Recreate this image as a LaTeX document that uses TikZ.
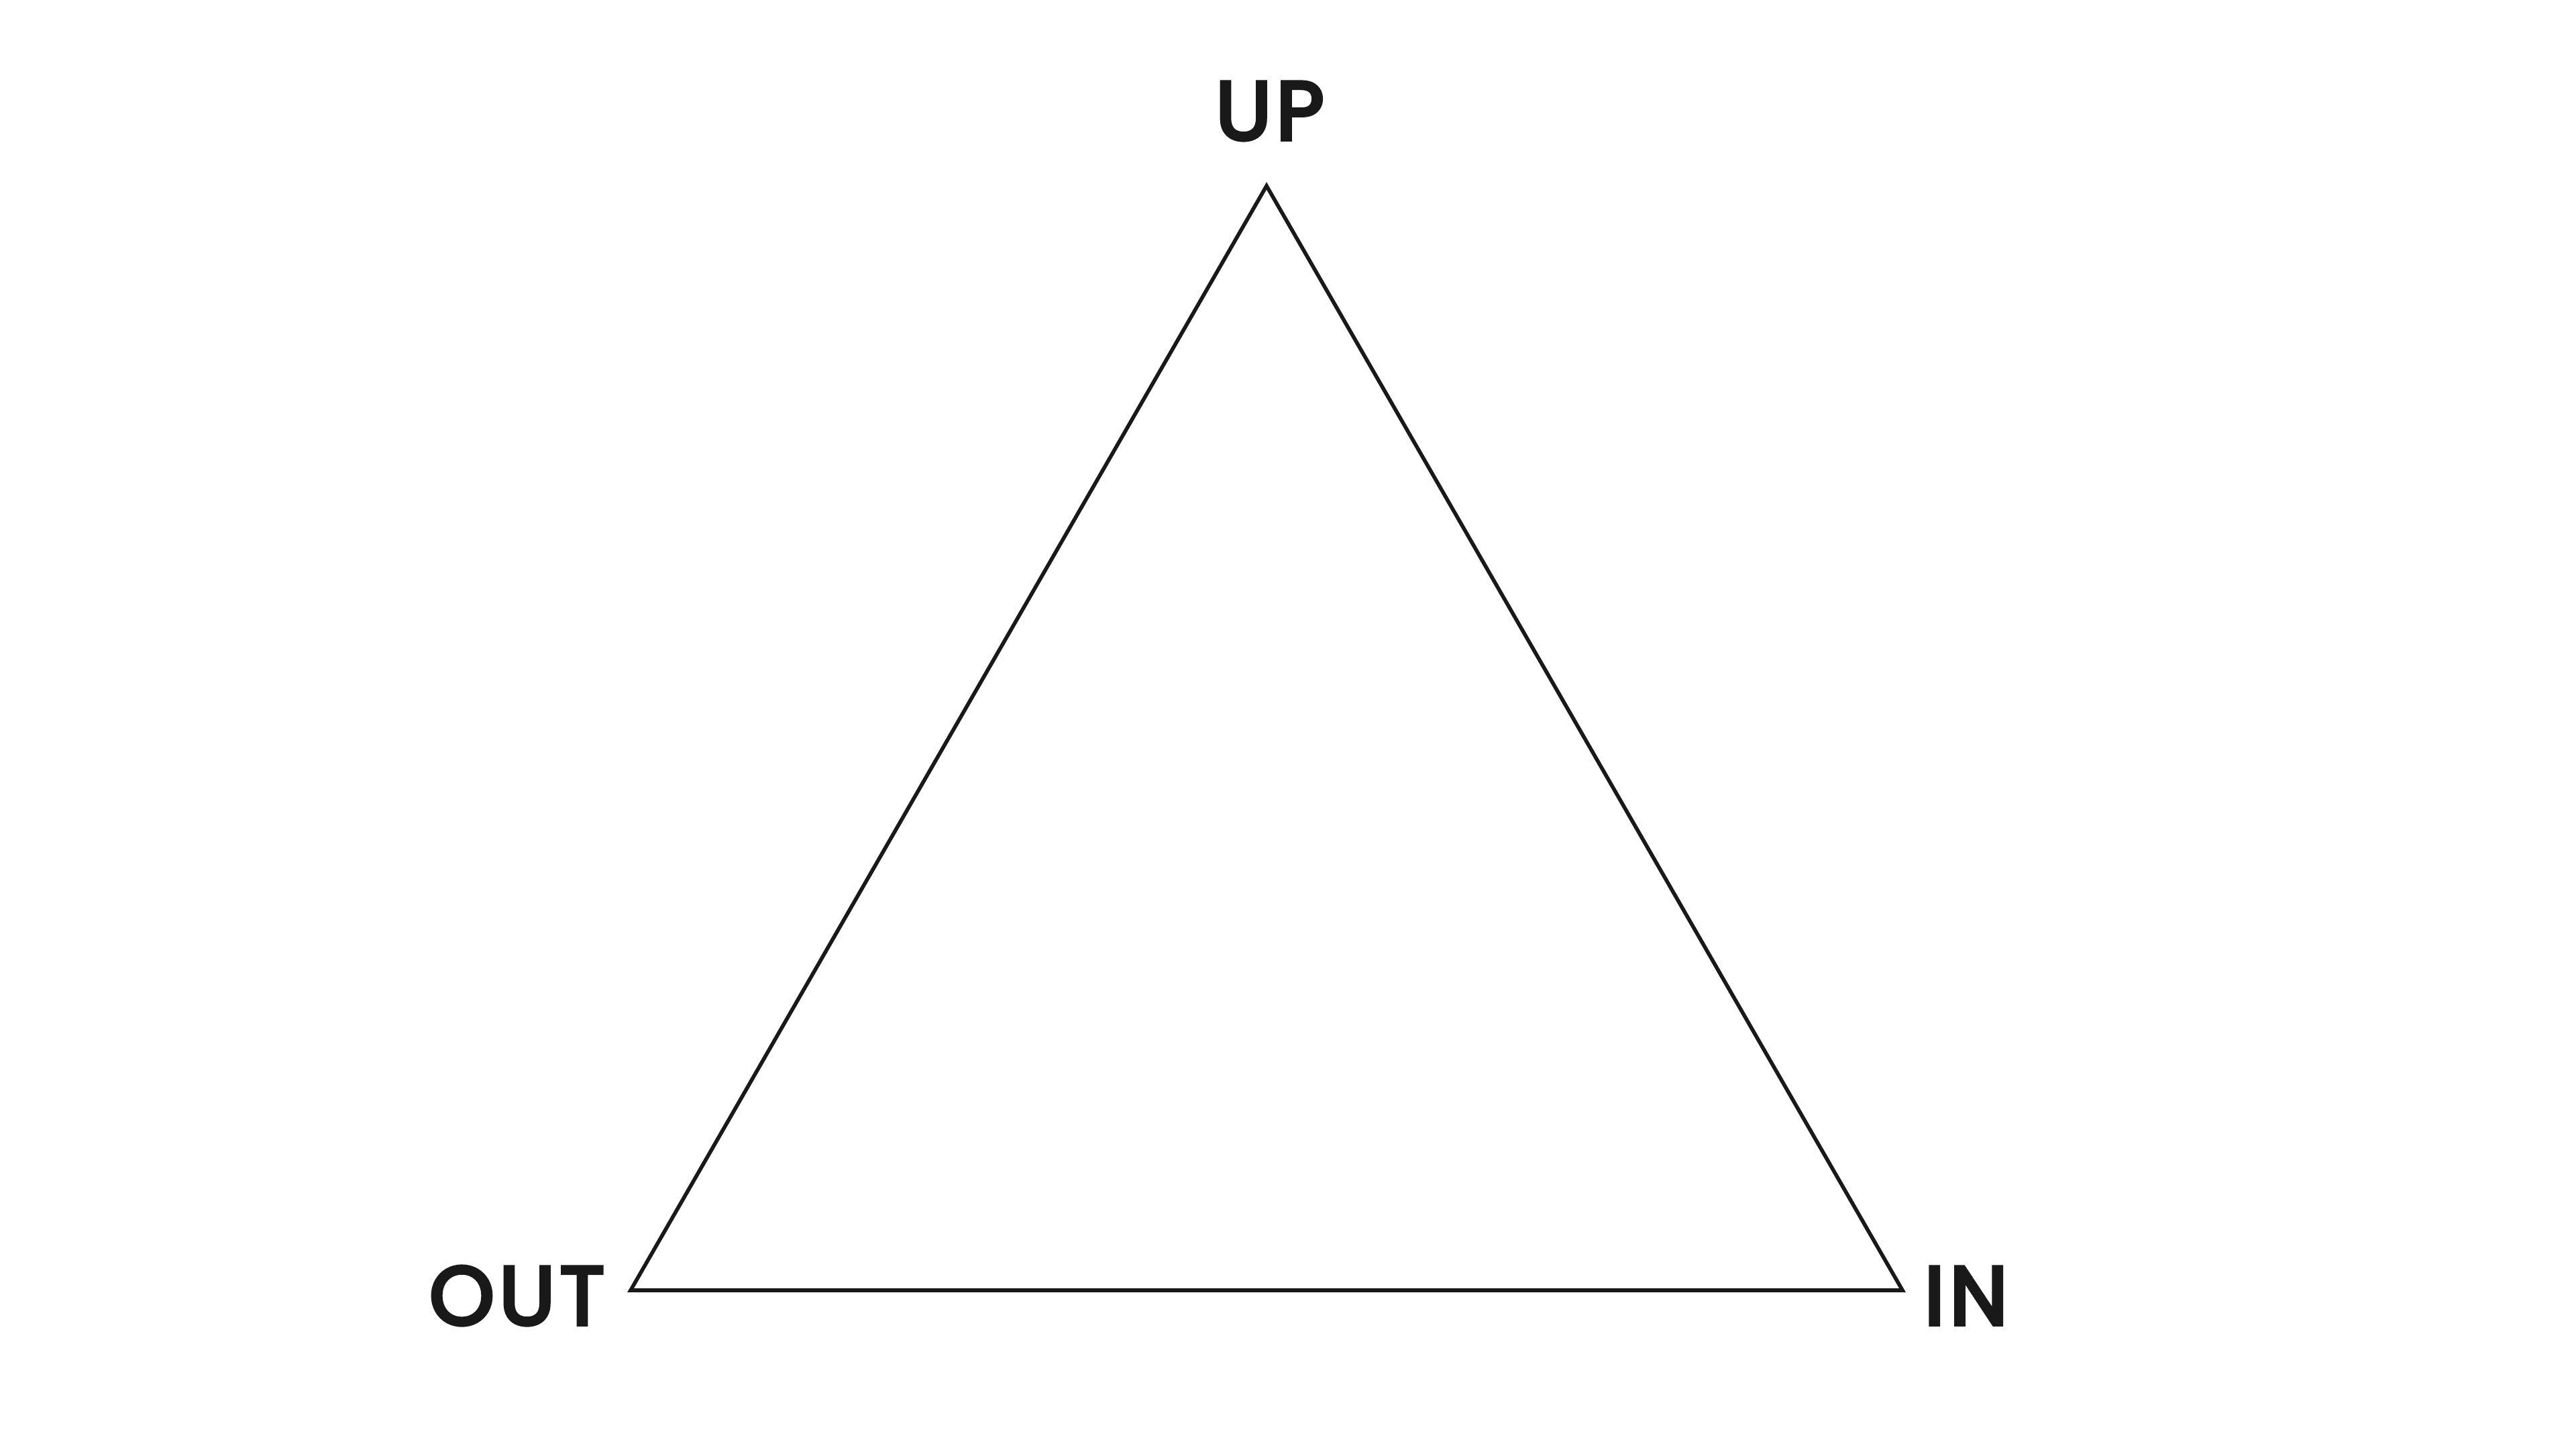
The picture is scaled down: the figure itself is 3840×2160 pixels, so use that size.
\documentclass[tikz,border=0pt]{standalone}
\usepackage{fontspec}
\setmainfont{Poppins}
\begin{document}
\begin{tikzpicture}[x=0.01cm,y=-0.01cm,
  lbl/.style={inner sep=0pt,font=\fontsize{35}{40}\selectfont\addfontfeatures{LetterSpace=6,FakeBold=4.5},text=black!90},
  tri/.style={line width=1.6pt,line join=miter,draw=black!90}]
\useasboundingbox (0,0) rectangle (3840,2160);
\coordinate (apex) at (1888,277);
\coordinate (bl) at (940,1923);
\coordinate (br) at (2836,1923);
\draw[tri] (apex) -- (br) -- (bl) -- cycle;
\node[lbl,anchor=base] (up) at (1893,208) {UP};
\node[lbl,anchor=base east] (out) at (902,1974) {OUT};
\node[lbl,anchor=base west] (in) at (2868,1974) {IN};
\end{tikzpicture}
\end{document}
